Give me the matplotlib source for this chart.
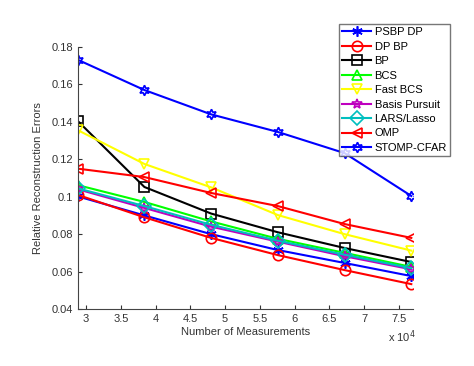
import numpy as np
import matplotlib.pyplot as plt

plt.rcParams['font.family'] = ['Liberation Sans', 'DejaVu Sans']

# number of measurements
n_meas = [28800, 38400, 48000, 57600, 67200, 76800]

psbp_dp = [0.1002, 0.0900, 0.0800, 0.0715, 0.0646, 0.0576]
dp_bp = [0.1010, 0.0890, 0.0780, 0.0688, 0.0608, 0.0533]
bp = [0.1405, 0.1052, 0.0910, 0.0810, 0.0726, 0.0651]
bcs = [0.1062, 0.0972, 0.0868, 0.0775, 0.0700, 0.0625]
fast_bcs = [0.1356, 0.1175, 0.1050, 0.0902, 0.0800, 0.0712]
basis_pursuit = [0.1040, 0.0940, 0.0840, 0.0760, 0.0682, 0.0612]
lars_lasso = [0.1045, 0.0950, 0.0850, 0.0765, 0.0690, 0.0618]
omp = [0.1150, 0.1105, 0.1020, 0.0950, 0.0854, 0.0780]
stomp_cfar = [0.1732, 0.1570, 0.1440, 0.1346, 0.1233, 0.1004]

series = [
    ('PSBP DP', psbp_dp, 'b', (6, 2, 0)),
    ('DP BP', dp_bp, 'r', 'o'),
    ('BP', bp, 'k', 's'),
    ('BCS', bcs, '#00ff00', '^'),
    ('Fast BCS', fast_bcs, '#ffff00', 'v'),
    ('Basis Pursuit', basis_pursuit, 'm', '*'),
    ('LARS/Lasso', lars_lasso, 'c', 'D'),
    ('OMP', omp, 'r', '<'),
    ('STOMP-CFAR', stomp_cfar, 'b', (6, 1, 0)),
]

fig = plt.figure(figsize=(4.74, 3.66), dpi=100)
ax = fig.add_axes([0.1646, 0.1557, 0.7068, 0.7159])

for name, vals, col, mk in series:
    ax.plot(n_meas, vals, color=col, marker=mk, markersize=7.5, linewidth=1.5,
            markerfacecolor='none', markeredgecolor=col, markeredgewidth=1.2,
            label=name)

ax.set_xlim(28850, 77050)
ax.set_ylim(0.04, 0.18)
xt = [30000, 35000, 40000, 45000, 50000, 55000, 60000, 65000, 70000, 75000]
ax.set_xticks(xt)
ax.set_xticklabels(['3', '3.5', '4', '4.5', '5', '5.5', '6', '6.5', '7', '7.5'])
ax.set_yticks([0.04, 0.06, 0.08, 0.1, 0.12, 0.14, 0.16, 0.18])
ax.set_yticklabels(['0.04', '0.06', '0.08', '0.1', '0.12', '0.14', '0.16', '0.18'])
ax.tick_params(direction='in', length=3, labelsize=8, colors='#333333')
ax.spines['top'].set_visible(False)
ax.spines['right'].set_visible(False)
ax.spines['left'].set_color('#444444')
ax.spines['bottom'].set_color('#444444')

ax.set_xlabel('Number of Measurements', fontsize=8, color='#333333', labelpad=2)
ax.set_ylabel('Relative Reconstruction Errors', fontsize=8, color='#333333', labelpad=6)
fig.text(0.818, 0.067, r'x 10$^4$', fontsize=8, color='#333333')

leg = fig.legend(loc='upper left', bbox_to_anchor=(339 / 474, 1 - 24 / 366),
                 fontsize=8, frameon=True, fancybox=False, borderpad=0.3,
                 labelspacing=0.4, handlelength=2.6, handletextpad=0.3,
                 borderaxespad=0)
leg.get_frame().set_edgecolor('#555555')
leg.get_frame().set_linewidth(1.0)

fig.savefig('out.png', dpi=100)
